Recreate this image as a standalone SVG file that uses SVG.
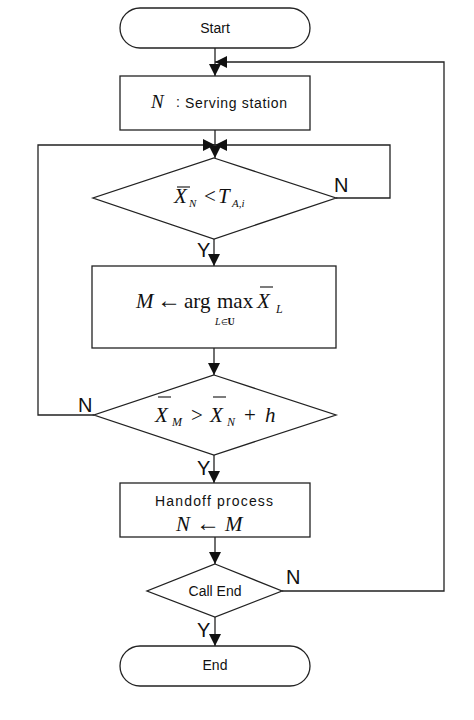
<svg xmlns="http://www.w3.org/2000/svg" width="474" height="720" viewBox="0 0 474 720">
<style>
.shape{fill:#fff;stroke:#222;stroke-width:1.3}
.conn{fill:none;stroke:#222;stroke-width:1.3}
.lbl{font-family:"Liberation Sans",Arial,sans-serif;font-size:14px;fill:#111}
.yn{font-family:"Liberation Sans",Arial,sans-serif;font-size:20px;fill:#111}
.m{font-family:"Liberation Serif","Times New Roman",serif;fill:#111}
.i{font-style:italic}
.bar{stroke:#111;stroke-width:1.1}
</style>
<defs>
<marker id="ah" markerUnits="userSpaceOnUse" markerWidth="12" markerHeight="12" refX="12" refY="6" orient="auto">
<path d="M0,0 L12,6 L0,12 z" fill="#111"/>
</marker>
</defs>
<g id="connectors">
<line class="conn" x1="215" y1="48" x2="215" y2="76" marker-end="url(#ah)"/>
<line class="conn" x1="215" y1="130" x2="215" y2="158" marker-end="url(#ah)"/>
<line class="conn" x1="214" y1="239" x2="214" y2="266" marker-end="url(#ah)"/>
<line class="conn" x1="214" y1="348" x2="214" y2="375" marker-end="url(#ah)"/>
<line class="conn" x1="214" y1="455" x2="214" y2="483" marker-end="url(#ah)"/>
<line class="conn" x1="215" y1="537" x2="215" y2="564" marker-end="url(#ah)"/>
<line class="conn" x1="215" y1="617" x2="215" y2="646" marker-end="url(#ah)"/>
<polyline class="conn" points="336,198 390,198 390,145 215,145" marker-end="url(#ah)"/>
<polyline class="conn" points="94,415 38,415 38,145 215,145" marker-end="url(#ah)"/>
<polyline class="conn" points="282,591 444,591 444,62 215,62" marker-end="url(#ah)"/>
<text class="yn" x="334" y="192">N</text>
<text class="yn" x="197" y="257">Y</text>
<text class="yn" x="78" y="412">N</text>
<text class="yn" x="197" y="475">Y</text>
<text class="yn" x="286" y="584">N</text>
<text class="yn" x="197" y="637">Y</text>
</g>
<g id="start">
<rect class="shape" x="120" y="8" width="190" height="40" rx="20" ry="20"/>
<text class="lbl" x="215" y="33" text-anchor="middle">Start</text>
</g>
<g id="serving">
<rect class="shape" x="120" y="76" width="190" height="54"/>
<text class="m i" x="151" y="108" font-size="19">N</text>
<text class="lbl" x="176" y="107">:</text>
<text class="lbl" x="185" y="108" textLength="102" lengthAdjust="spacing">Serving station</text>
</g>
<g id="decision1">
<polygon class="shape" points="214,158 336,198 214,239 93,198"/>
<line class="bar" x1="177" y1="187" x2="190" y2="187"/>
<text class="m" y="203" font-size="21"><tspan class="i" x="174">X</tspan><tspan class="i" x="189" dy="4" font-size="11">N</tspan><tspan x="204" dy="-4">&lt;</tspan><tspan class="i" x="218">T</tspan><tspan class="i" x="232" dy="4" font-size="11">A,i</tspan></text>
</g>
<g id="argmax">
<rect class="shape" x="92" y="266" width="244" height="82"/>
<text class="m" y="308" font-size="21"><tspan class="i" x="136">M</tspan><tspan x="157" font-size="24">←</tspan><tspan x="184">arg</tspan><tspan x="217">max</tspan><tspan class="i" x="257">X</tspan><tspan class="i" x="276" dy="5" font-size="12">L</tspan></text>
<line class="bar" x1="260" y1="287" x2="273" y2="287"/>
<text class="m" x="215" y="325" font-size="10"><tspan class="i">L</tspan><tspan font-size="8">∈</tspan><tspan font-weight="bold">U</tspan></text>
</g>
<g id="decision2">
<polygon class="shape" points="214,375 336,415 214,455 94,415"/>
<line class="bar" x1="158" y1="397" x2="171" y2="397"/>
<line class="bar" x1="213" y1="397" x2="226" y2="397"/>
<text class="m" y="422" font-size="21"><tspan class="i" x="155">X</tspan><tspan class="i" x="172" dy="4" font-size="12">M</tspan><tspan x="191" dy="-4">&gt;</tspan><tspan class="i" x="210">X</tspan><tspan class="i" x="227" dy="4" font-size="12">N</tspan><tspan x="244" dy="-4">+</tspan><tspan class="i" x="265">h</tspan></text>
</g>
<g id="handoff">
<rect class="shape" x="120" y="483" width="190" height="54"/>
<text class="lbl" x="155" y="506" textLength="118" lengthAdjust="spacing">Handoff process</text>
<text class="m" y="531" font-size="21"><tspan class="i" x="176">N</tspan><tspan x="196" font-size="24">←</tspan><tspan class="i" x="225">M</tspan></text>
</g>
<g id="callend">
<polygon class="shape" points="215,564 282,591 215,617 147,591"/>
<text class="lbl" x="215" y="596" text-anchor="middle">Call End</text>
</g>
<g id="end">
<rect class="shape" x="120" y="646" width="190" height="40" rx="20" ry="20"/>
<text class="lbl" x="215" y="670" text-anchor="middle">End</text>
</g>
</svg>
